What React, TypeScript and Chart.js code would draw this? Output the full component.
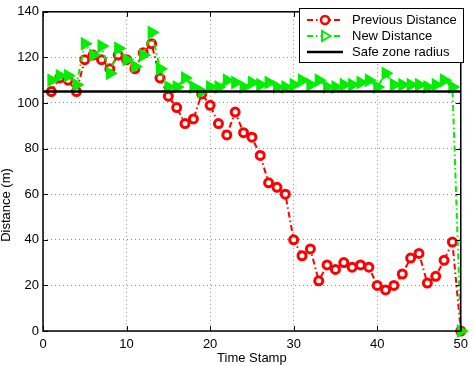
import { useEffect, useRef } from 'react';
import { Chart, registerables } from 'chart.js';

Chart.register(...registerables);

const timeStamps = [
  1, 2, 3, 4, 5, 6, 7, 8, 9, 10, 11, 12, 13, 14, 15, 16, 17, 18, 19, 20, 21, 22, 23, 24, 25,
  26, 27, 28, 29, 30, 31, 32, 33, 34, 35, 36, 37, 38, 39, 40, 41, 42, 43, 44, 45, 46, 47, 48, 49, 50,
];
const previousDistance = [
  105, 111, 110, 105, 119, 121, 119, 115, 121, 119,
  115, 122, 126, 111, 103, 98, 91, 93, 104, 99,
  91, 86, 96, 87, 85, 77, 65, 63, 60, 40,
  33, 36, 22, 29, 27, 30, 28, 29, 28, 20,
  18, 20, 25, 32, 34, 21, 24, 31, 39, 0,
];
const newDistance = [
  110, 112, 112, 108, 126, 121, 125, 113, 124, 119,
  116, 121, 131, 115, 107, 107, 111, 107, 105, 107,
  107, 110, 109, 107, 109, 108, 109, 107, 107, 108,
  110, 108, 110, 107, 107, 108, 108, 109, 110, 107,
  113, 108, 108, 108, 108, 107, 108, 110, 107, 0,
];
const safeZoneX = [0, 50];
const safeZoneRadius = [105, 105];
const xTicks = [0, 10, 20, 30, 40, 50];
const yTicks = [0, 20, 40, 60, 80, 100, 120, 140];

const seriesLabels = ['Previous Distance', 'New Distance', 'Safe zone radius'];
const xTitle = 'Time Stamp';
const yTitle = 'Distance (m)';

const RED = '#ff0000';
const GREEN = '#00ee00';
const FONT = '"Liberation Sans", Arial, Helvetica, sans-serif';
const DASHDOT = [6, 3, 1.5, 3];

const overlayPlugin = {
  id: 'overlay',
  afterDraw(chart: any) {
    const ctx: CanvasRenderingContext2D = chart.ctx;
    const { left, right, top, bottom } = chart.chartArea;
    const xs = chart.scales.x;
    const ys = chart.scales.y;
    ctx.save();
    // frame
    ctx.strokeStyle = '#000';
    ctx.lineWidth = 1.5;
    ctx.setLineDash([]);
    ctx.strokeRect(left, top, right - left, bottom - top);
    // inward ticks
    ctx.lineWidth = 1;
    const tl = 5;
    ctx.beginPath();
    xTicks.forEach((v) => {
      const px = Math.round(xs.getPixelForValue(v)) + 0.5;
      ctx.moveTo(px, bottom);
      ctx.lineTo(px, bottom - tl);
      ctx.moveTo(px, top);
      ctx.lineTo(px, top + tl);
    });
    yTicks.forEach((v) => {
      const py = Math.round(ys.getPixelForValue(v)) + 0.5;
      ctx.moveTo(left, py);
      ctx.lineTo(left + tl, py);
      ctx.moveTo(right, py);
      ctx.lineTo(right - tl, py);
    });
    ctx.stroke();

    // axis titles
    ctx.fillStyle = '#000';
    ctx.font = `13px ${FONT}`;
    ctx.textAlign = 'center';
    ctx.textBaseline = 'middle';
    ctx.fillText(xTitle, (left + right) / 2, 358);
    ctx.save();
    ctx.translate(10, 205);
    ctx.rotate(-Math.PI / 2);
    ctx.textBaseline = 'alphabetic';
    ctx.fillText(yTitle, 0, 0);
    ctx.restore();

    // legend
    const bx = 299.5, by = 8.5, bw = 164, bh = 54;
    ctx.fillStyle = '#fff';
    ctx.fillRect(bx, by, bw, bh);
    ctx.strokeStyle = '#000';
    ctx.lineWidth = 1;
    ctx.strokeRect(bx, by, bw, bh);
    const rows = [20, 36, 52];
    const x0 = 307, x1 = 343, xm = 325;
    // row 1
    ctx.strokeStyle = RED;
    ctx.lineWidth = 2;
    ctx.setLineDash(DASHDOT);
    ctx.beginPath();
    ctx.moveTo(x0, rows[0]);
    ctx.lineTo(x1, rows[0]);
    ctx.stroke();
    ctx.setLineDash([]);
    ctx.lineWidth = 2.5;
    ctx.fillStyle = '#fff';
    ctx.beginPath();
    ctx.arc(xm, rows[0], 4, 0, Math.PI * 2);
    ctx.fill();
    ctx.stroke();
    // row 2
    ctx.strokeStyle = GREEN;
    ctx.lineWidth = 2;
    ctx.setLineDash(DASHDOT);
    ctx.beginPath();
    ctx.moveTo(x0, rows[1]);
    ctx.lineTo(x1, rows[1]);
    ctx.stroke();
    ctx.setLineDash([]);
    ctx.lineWidth = 2;
    ctx.fillStyle = '#fff';
    ctx.beginPath();
    ctx.moveTo(xm + 5.5, rows[1]);
    ctx.lineTo(xm - 3, rows[1] - 5);
    ctx.lineTo(xm - 3, rows[1] + 5);
    ctx.closePath();
    ctx.fill();
    ctx.stroke();
    // row 3
    ctx.strokeStyle = '#000';
    ctx.lineWidth = 2.5;
    ctx.beginPath();
    ctx.moveTo(x0, rows[2]);
    ctx.lineTo(x1, rows[2]);
    ctx.stroke();
    // texts
    ctx.fillStyle = '#000';
    ctx.font = `13px ${FONT}`;
    ctx.textAlign = 'left';
    ctx.textBaseline = 'middle';
    seriesLabels.forEach((t, i) => ctx.fillText(t, 352, rows[i] + 0.5));
    ctx.restore();
  },
};

export default function App() {
  const ref = useRef<HTMLCanvasElement>(null);
  useEffect(() => {
    document.body.style.margin = '0';
    const canvas = ref.current!;
    const gridOpts = { color: 'rgba(0,0,0,0.45)', lineWidth: 1, drawTicks: false };
    const borderOpts = { display: false, dash: [1, 3] };
    const tickFont = { family: FONT, size: 13 };
    const chart = new Chart(canvas, {
      type: 'line',
      data: {
        datasets: [
          {
            label: seriesLabels[0],
            data: timeStamps.map((t, i) => ({ x: t, y: previousDistance[i] })),
            borderColor: RED,
            borderWidth: 2,
            borderDash: DASHDOT,
            pointStyle: 'circle',
            pointRadius: 4,
            pointBorderWidth: 3,
            pointBorderColor: RED,
            pointBackgroundColor: '#fff',
            tension: 0,
            clip: false,
            order: 3,
          },
          {
            label: seriesLabels[1],
            data: timeStamps.map((t, i) => ({ x: t, y: newDistance[i] })),
            borderColor: GREEN,
            borderWidth: 2,
            borderDash: DASHDOT,
            pointStyle: 'triangle',
            pointRotation: 90,
            pointRadius: 6.5,
            pointBorderWidth: 1.5,
            pointBorderColor: GREEN,
            pointBackgroundColor: GREEN,
            tension: 0,
            clip: false,
            order: 2,
          },
          {
            label: seriesLabels[2],
            data: safeZoneX.map((x, i) => ({ x, y: safeZoneRadius[i] })),
            borderColor: '#000',
            borderWidth: 2.5,
            pointRadius: 0,
            tension: 0,
            order: 1,
          },
        ],
      },
      options: {
        animation: false,
        responsive: false,
        devicePixelRatio: 1,
        layout: { padding: { left: 0, right: 10, top: 4, bottom: 0 } },
        plugins: { legend: { display: false }, tooltip: { enabled: false } },
        scales: {
          x: {
            type: 'linear',
            min: 0,
            max: 50,
            afterBuildTicks: (s: any) => {
              s.ticks = xTicks.map((v) => ({ value: v }));
            },
            afterFit: (s: any) => {
              s.height = 35;
            },
            grid: gridOpts,
            border: borderOpts,
            ticks: { padding: 6, color: '#000', font: tickFont, maxRotation: 0, autoSkip: false },
          },
          y: {
            type: 'linear',
            min: 0,
            max: 140,
            afterBuildTicks: (s: any) => {
              s.ticks = yTicks.map((v) => ({ value: v }));
            },
            afterFit: (s: any) => {
              s.width = 43;
            },
            grid: gridOpts,
            border: borderOpts,
            ticks: { padding: 4, color: '#000', font: tickFont, autoSkip: false },
          },
        },
      },
      plugins: [overlayPlugin],
    } as any);
    return () => chart.destroy();
  }, []);
  return <canvas ref={ref} width={474} height={366} style={{ display: 'block' }} />;
}
